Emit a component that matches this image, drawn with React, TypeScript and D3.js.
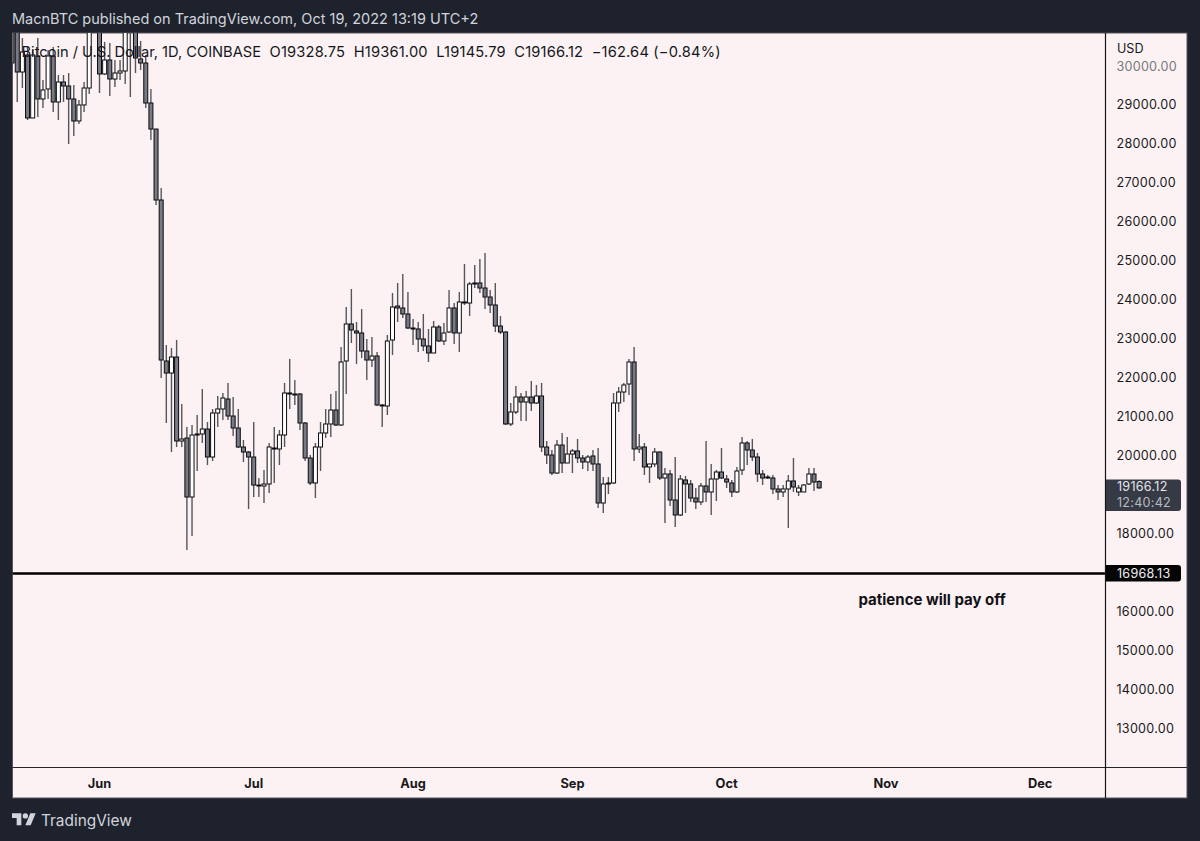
import React, { useEffect, useRef } from 'react';
import * as d3 from 'd3';

const W = 1200;
const H = 841;

const startDate = new Date(Date.UTC(2022, 4, 15));

// daily candles, May 15 -> Oct 19 2022
const opens = [
  31180, 30900, 29846, 30283, 28665, 30257, 29153, 29410, 30257, 29076, 29589, 29487, 29153, 28588, 28999, 29435, 31800,
  31700, 29795, 30154, 29666, 29820, 29872, 31180, 31300, 30180, 30077, 29050, 28382, 26559, 22425, 22116, 22527, 20370, 20447, 18932, 20524, 20550, 20678, 19959, 21089, 21192, 21449, 21012, 20704, 20216, 20088,
  19959, 19240, 19215, 19266, 20190, 20165, 20524, 21603, 21577, 21577, 20832, 19934, 19292, 20216, 20576, 20807, 21166, 20781, 22425, 23375, 23195, 23144, 22681, 22450, 22553, 21295, 21269, 22964, 23837, 23786, 23632,
  23272, 23247, 22990, 22810, 22630, 23298, 22938, 23169, 23786, 23144, 23940, 23914, 24428, 24428, 24299, 24068, 23863, 23323, 23169, 20807, 21115, 21500, 21372, 21500, 21346, 21526, 20216, 20011, 19548, 20267, 19805,
  20036, 20114, 19934, 19831, 19985, 19780, 18778, 19266, 19292, 21346, 21628, 21834, 22399, 20165, 20216, 19703, 19780, 20088, 19420, 19523, 18855, 18470, 19369, 19266, 18906, 18804, 19215, 19061, 19394, 19574,
  19394, 19292, 19061, 19625, 20319, 20139, 19959, 19523, 19420, 19420, 19138, 19061, 19138, 19343, 19061, 19061, 19266, 19523, 19328.75,
];
const highs = [
  31300, 31053, 30719, 30488, 30411, 30719, 29641, 30411, 30488, 29769, 29769, 29820, 29512, 29127, 29589, 31438, 32300,
  31900, 30616, 30591, 30154, 30154, 31700, 31500, 31500, 30642, 30283, 29410, 28382, 26867, 22835, 22758, 22964, 21320, 20730, 20781, 21038, 21706, 20858, 21192, 21526, 21603, 21860, 21500, 21192, 20396, 20114,
  20858, 19420, 19625, 20319, 20730, 20653, 21860, 22476, 21937, 21603, 20858, 20011, 20319, 20858, 21192, 21577, 21654, 22784, 23811, 24273, 23426, 23760, 22990, 23041, 22656, 21320, 23092, 24171, 24428, 24659, 24196,
  23503, 23426, 23631, 23247, 23452, 23349, 23400, 24248, 23914, 24196, 24916, 24453, 24890, 25044, 25198, 24248, 24428, 23580, 23190, 21346, 21782, 21603, 21654, 21911, 21808, 21860, 20370, 20139, 20396, 20576, 20473,
  20165, 20422, 20011, 20011, 20139, 20190, 19446, 19446, 21603, 21757, 21860, 22476, 22784, 20550, 20319, 19780, 20190, 20100, 19677, 19625, 19959, 19497, 19471, 19369, 19163, 19292, 20370, 19780, 19625, 20190,
  19497, 19369, 19703, 20473, 20370, 20422, 20062, 19625, 19497, 19497, 19240, 19240, 19497, 19933, 19240, 19266, 19677, 19677, 19361,
];
const lows = [
  29900, 29076, 29435, 28614, 28665, 28691, 28922, 29153, 28819, 28614, 29076, 27997, 28203, 28511, 28819, 29281, 31200,
  29307, 29769, 29230, 29461, 29641, 29538, 29204, 29820, 29897, 28922, 28100, 26430, 21988, 20832, 20088, 20216, 20216, 17571, 17931, 19600, 20319, 19754, 19857, 20730, 20910, 20910, 20499, 20190, 19831, 18624,
  18932, 18932, 18778, 19035, 19292, 19754, 20216, 21192, 21295, 20653, 19857, 19240, 18906, 19600, 20448, 20473, 20756, 20756, 21577, 22887, 22347, 22501, 21937, 22270, 21269, 20730, 21038, 22579, 23426, 23529, 23247,
  22835, 22656, 22681, 22399, 22630, 22912, 22835, 23144, 22861, 22656, 23863, 23580, 24299, 24171, 23760, 23657, 23169, 23118, 20781, 20756, 21064, 20884, 20884, 21141, 21320, 20088, 19780, 19497, 19523, 19548, 19805,
  19548, 19805, 19651, 19600, 19600, 18650, 18521, 19009, 19266, 21115, 21372, 21551, 19857, 20062, 19497, 19292, 19703, 19369, 18264, 18701, 18162, 18444, 18521, 18804, 18624, 18727, 18804, 18470, 18829, 19394,
  19163, 18932, 19035, 19497, 19754, 19857, 19317, 19240, 19394, 19009, 18855, 18932, 18136, 19061, 18958, 19061, 19240, 19086, 19145.79,
];
const closes = [
  30077, 29846, 30360, 28665, 30283, 29153, 29384, 30257, 29076, 29589, 29487, 29153, 28588, 28999, 29435, 31181, 31750,
  29795, 30154, 29666, 29820, 29872, 31180, 31300, 30206, 30077, 29050, 28382, 26559, 22450, 22116, 22527, 20370, 20421, 18932, 20524, 20550, 20678, 19959, 21089, 21192, 21474, 21012, 20704, 20216, 20088, 19959,
  19240, 19215, 19266, 20216, 20165, 20524, 21603, 21577, 21565, 20832, 19934, 19292, 20216, 20576, 20807, 21166, 20781, 22399, 23375, 23221, 23144, 22681, 22450, 22553, 21295, 21269, 22938, 23811, 23786, 23632, 23272,
  23247, 22990, 22810, 22630, 23298, 22938, 23144, 23786, 23144, 23940, 23914, 24402, 24402, 24299, 24068, 23863, 23323, 23169, 20807, 21115, 21500, 21372, 21500, 21346, 21526, 20216, 20011, 19548, 20267, 19805, 20036,
  20114, 19934, 19831, 19959, 19780, 18778, 19266, 19292, 21346, 21628, 21808, 22399, 20165, 20216, 19703, 19780, 20088, 19420, 19523, 18855, 18470, 19394, 19266, 18906, 18804, 19215, 19061, 19394, 19574, 19420,
  19317, 19061, 19600, 20319, 20139, 19959, 19523, 19420, 19446, 19138, 19061, 19138, 19343, 19189, 19163, 19240, 19523, 19317, 19166.12,
];

const priceTicks = [13000, 14000, 15000, 16000, 17000, 18000, 19000, 20000, 21000, 22000, 23000, 24000, 25000, 26000, 27000, 28000, 29000, 30000];
const hiddenTicks = [17000, 19000];
const levelPrice = 16968.13;
const lastPrice = 19166.12;
const countdown = '12:40:42';

const headerText = 'MacnBTC published on TradingView.com, Oct 19, 2022 13:19 UTC+2';
const legendTitle = 'Bitcoin / U.S. Dollar, 1D, COINBASE';
const legendValues = '  O19328.75  H19361.00  L19145.79  C19166.12  \u2212162.64 (\u22120.84%)';
const noteText = 'patience will pay off';

const FONT = 'Inter, "Liberation Sans", sans-serif';

const App: React.FC = () => {
  const svgRef = useRef<SVGSVGElement>(null);

  useEffect(() => {
    const svg = d3.select(svgRef.current);
    svg.selectAll('*').remove();

    const plot = { left: 12.5, right: 1105, top: 33, bottom: 767 };
    const panelRight = 1187;
    const panelBottom = 798;

    const x = d3.scaleUtc()
      .domain([new Date(Date.UTC(2022, 5, 1)), new Date(Date.UTC(2022, 11, 1))])
      .range([99.5, 1040.2]);
    const y = d3.scaleLinear().domain([13000, 30000]).range([728, 66]);

    const dates = opens.map((_, i) => d3.utcDay.offset(startDate, i));
    const candles = dates.map((date, i) => ({
      date, open: opens[i], high: highs[i], low: lows[i], close: closes[i],
    }));

    svg.append('rect').attr('width', W).attr('height', H).attr('fill', '#1e222d');
    svg.append('rect')
      .attr('x', plot.left).attr('y', plot.top)
      .attr('width', panelRight - plot.left).attr('height', panelBottom - plot.top)
      .attr('fill', '#fcf2f3').attr('stroke', '#55555c').attr('stroke-width', 1);

    svg.append('defs').append('clipPath').attr('id', 'plot-clip')
      .append('rect')
      .attr('x', plot.left).attr('y', plot.top)
      .attr('width', plot.right - plot.left).attr('height', plot.bottom - plot.top);

    const chart = svg.append('g').attr('clip-path', 'url(#plot-clip)');

    // wicks first, bodies go on top of them
    chart.selectAll('line.wick').data(candles).join('line')
      .attr('class', 'wick')
      .attr('x1', d => x(d.date)).attr('x2', d => x(d.date))
      .attr('y1', d => y(d.high)).attr('y2', d => y(d.low))
      .attr('stroke', '#55565c').attr('stroke-width', 1.4);

    chart.selectAll('rect.body').data(candles).join('rect')
      .attr('class', 'body')
      .attr('x', d => x(d.date) - 2)
      .attr('width', 4)
      .attr('y', d => y(Math.max(d.open, d.close)))
      .attr('height', d => Math.max(1, Math.abs(y(d.open) - y(d.close))))
      .attr('fill', d => (d.close >= d.open ? '#ffffff' : '#787b86'))
      .attr('stroke', '#0b0b0e').attr('stroke-width', 1);

    // horizontal level
    svg.append('line')
      .attr('x1', plot.left).attr('x2', plot.right)
      .attr('y1', y(levelPrice)).attr('y2', y(levelPrice))
      .attr('stroke', '#000').attr('stroke-width', 2.4);

    // axis separators
    svg.append('line').attr('x1', plot.left).attr('x2', panelRight)
      .attr('y1', plot.bottom + 0.5).attr('y2', plot.bottom + 0.5)
      .attr('stroke', '#26262b').attr('stroke-width', 1.2);
    svg.append('line').attr('x1', plot.right + 0.5).attr('x2', plot.right + 0.5)
      .attr('y1', plot.top).attr('y2', panelBottom)
      .attr('stroke', '#131318').attr('stroke-width', 1.2);

    // price axis
    svg.append('g').selectAll('text').data(priceTicks.filter(t => !hiddenTicks.includes(t))).join('text')
      .attr('x', 1116.5).attr('y', d => y(d)).attr('dy', '0.36em')
      .attr('font-family', FONT).attr('font-size', 12.6).attr('letter-spacing', 0.25)
      .attr('fill', d => (d === 30000 ? '#77777c' : '#18181c'))
      .text(d => d.toFixed(2));

    svg.append('text').attr('x', 1117).attr('y', 48).attr('dy', '0.36em')
      .attr('font-family', FONT).attr('font-size', 12.6).attr('fill', '#131722').text('USD');

    // last price tag
    const tagPath = (top: number, h: number) => {
      const l = plot.right + 1, r = 1181, c = 3;
      return `M${l},${top}H${r - c}Q${r},${top} ${r},${top + c}V${top + h - c}Q${r},${top + h} ${r - c},${top + h}H${l}Z`;
    };
    const lastY = y(lastPrice);
    svg.append('path').attr('d', tagPath(lastY - 8.5, 31.5)).attr('fill', '#363a45');
    svg.append('text').attr('x', 1117).attr('y', lastY - 1).attr('dy', '0.36em')
      .attr('font-family', FONT).attr('font-size', 12.6).attr('letter-spacing', 0.25).attr('fill', '#e4e5ea')
      .text(lastPrice.toFixed(2));
    svg.append('text').attr('x', 1117).attr('y', lastY + 14.5).attr('dy', '0.36em')
      .attr('font-family', FONT).attr('font-size', 12.6).attr('letter-spacing', 0.25).attr('fill', '#b8bac2')
      .text(countdown);

    // level tag
    const levelY = y(levelPrice);
    svg.append('path').attr('d', tagPath(levelY - 8.5, 16.5)).attr('fill', '#050506');
    svg.append('text').attr('x', 1117).attr('y', levelY).attr('dy', '0.36em')
      .attr('font-family', FONT).attr('font-size', 12.6).attr('letter-spacing', 0.25).attr('fill', '#eeeef0')
      .text(levelPrice.toFixed(2));

    // time axis
    const months = d3.utcMonth.range(new Date(Date.UTC(2022, 5, 1)), new Date(Date.UTC(2022, 11, 2)));
    svg.append('g').selectAll('text').data(months).join('text')
      .attr('x', d => x(d)).attr('y', 783).attr('dy', '0.36em')
      .attr('text-anchor', 'middle')
      .attr('font-family', FONT).attr('font-size', 12.8).attr('font-weight', 700).attr('fill', '#18181c')
      .text(d => d3.utcFormat('%b')(d));

    // texts
    svg.append('text').attr('x', 12).attr('y', 19).attr('dy', '0.36em')
      .attr('font-family', FONT).attr('font-size', 14.5).attr('fill', '#d1d4dc')
      .text(headerText);

    const legend = svg.append('text').attr('x', 21.5).attr('y', 52).attr('dy', '0.36em')
      .attr('font-family', FONT).attr('font-size', 14.65).attr('fill', '#131722')
      .style('white-space', 'pre');
    legend.append('tspan').text(legendTitle);
    legend.append('tspan').attr('letter-spacing', 0.18).text(legendValues);

    svg.append('text').attr('x', 858.5).attr('y', 600).attr('dy', '0.36em')
      .attr('font-family', FONT).attr('font-size', 15).attr('font-weight', 700).attr('fill', '#111116')
      .text(noteText);

    // footer logo + name
    const logo = svg.append('g').attr('transform', 'translate(12,810.6) scale(0.667)').attr('fill', '#d1d4dc');
    logo.append('path').attr('d', 'M14 22H7V11H0V4h14v18zM28 22h-8l7.5-18h8L28 22z');
    logo.append('circle').attr('cx', 20).attr('cy', 8).attr('r', 4);
    svg.append('text').attr('x', 41).attr('y', 820.5).attr('dy', '0.36em')
      .attr('font-family', FONT).attr('font-size', 15.4).attr('fill', '#d1d4dc')
      .text('TradingView');
  }, []);

  return <svg ref={svgRef} width={W} height={H} style={{ position: 'absolute', left: 0, top: 0, display: 'block' }} />;
};

export default App;
